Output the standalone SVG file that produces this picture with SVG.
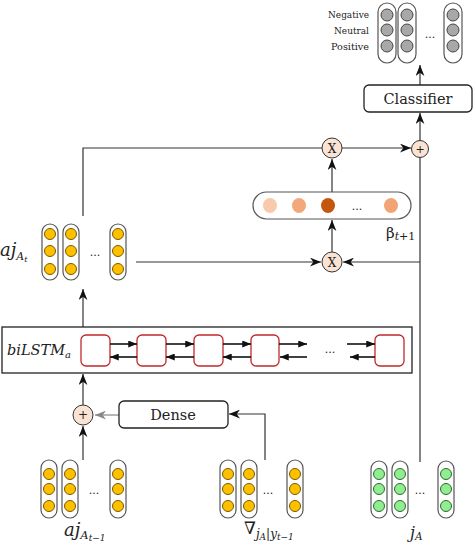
<svg xmlns="http://www.w3.org/2000/svg" width="474" height="546" viewBox="0 0 474 546">
<defs>
<marker id="arr" viewBox="0 0 10 8" refX="10" refY="4" markerWidth="11" markerHeight="9" markerUnits="userSpaceOnUse" orient="auto">
<path d="M0,0 L10,4 L0,8 L3,4 z" fill="#111"/>
</marker>
<marker id="arrg" viewBox="0 0 10 8" refX="10" refY="4" markerWidth="11" markerHeight="9" markerUnits="userSpaceOnUse" orient="auto">
<path d="M0,0 L10,4 L0,8 L3,4 z" fill="#888"/>
</marker>
<marker id="tri" viewBox="0 0 10 8" refX="10" refY="4" markerWidth="10" markerHeight="7" markerUnits="userSpaceOnUse" orient="auto">
<path d="M0,0 L10,4 L0,8 z" fill="#111"/>
</marker>
</defs>
<style>
.cap{fill:#fff;stroke:#555;stroke-width:1.2}
.y{fill:#FFC000;stroke:#7a5a00;stroke-width:1}
.g{fill:#90EE90;stroke:#2f6a2f;stroke-width:1}
.k{fill:#a8a8a8;stroke:#444;stroke-width:1}
.op{fill:#fbe3d3;stroke:#333;stroke-width:1}
.ln{fill:none;stroke:#333;stroke-width:1.2}
.box{fill:#fff;stroke:#222;stroke-width:1.3}
.cell{fill:#fff;stroke:#c0282a;stroke-width:1.3}
text{fill:#222;font-family:'DejaVu Serif',serif}
.m{font-style:italic}
.dots{font-size:11px}
</style>

<g id="connectors">
<line class="ln" x1="420" y1="85" x2="420" y2="65" marker-end="url(#arr)"/>
<line class="ln" x1="420" y1="141" x2="420" y2="113" marker-end="url(#arr)"/>
<line class="ln" x1="420" y1="462" x2="420" y2="157"/>
<line class="ln" x1="420" y1="262" x2="343" y2="262" marker-end="url(#arr)"/>
<line class="ln" x1="136" y1="262" x2="321" y2="262" marker-end="url(#arr)"/>
<line class="ln" x1="332" y1="252" x2="332" y2="220" marker-end="url(#arr)"/>
<line class="ln" x1="332" y1="192" x2="332" y2="159" marker-end="url(#arr)"/>
<line class="ln" x1="342" y1="148" x2="411" y2="148" marker-end="url(#arr)"/>
<polyline class="ln" points="83,216 83,148 322,148"/>
<line class="ln" x1="83" y1="327" x2="83" y2="289" marker-end="url(#arr)"/>
<line class="ln" x1="83" y1="405" x2="83" y2="374" marker-end="url(#arr)"/>
<line class="ln" x1="83" y1="460" x2="83" y2="426" marker-end="url(#arr)"/>
<line x1="119" y1="415" x2="95" y2="415" stroke="#888" stroke-width="1.2" marker-end="url(#arrg)"/>
<polyline class="ln" points="265,460 265,414 229,414" marker-end="url(#arr)"/>
</g>

<g id="output">
<text x="369" y="18" font-size="9" text-anchor="end" textLength="41" lengthAdjust="spacingAndGlyphs">Negative</text>
<text x="369" y="34" font-size="9" text-anchor="end" textLength="35" lengthAdjust="spacingAndGlyphs">Neutral</text>
<text x="369" y="50" font-size="9" text-anchor="end" textLength="38" lengthAdjust="spacingAndGlyphs">Positive</text>
<rect class="cap" x="378" y="3" width="18" height="60" rx="9"/>
<circle class="k" cx="387" cy="15" r="6"/><circle class="k" cx="387" cy="30" r="6"/><circle class="k" cx="387" cy="46" r="6"/>
<rect class="cap" x="398" y="3" width="18" height="60" rx="9"/>
<circle class="k" cx="407" cy="15" r="6"/><circle class="k" cx="407" cy="30" r="6"/><circle class="k" cx="407" cy="46" r="6"/>
<text class="dots" x="430" y="38" text-anchor="middle">...</text>
<rect class="cap" x="444" y="3" width="18" height="60" rx="9"/>
<circle class="k" cx="453" cy="15" r="6"/><circle class="k" cx="453" cy="30" r="6"/><circle class="k" cx="453" cy="46" r="6"/>
</g>

<g id="classifier">
<rect class="box" x="364" y="85" width="108" height="27" rx="5"/>
<text x="418" y="104" font-size="14.5" text-anchor="middle">Classifier</text>
</g>

<g id="plus-top">
<circle class="op" cx="420" cy="149" r="8.5"/>
<text x="420" y="153" font-size="11" text-anchor="middle">+</text>
</g>

<g id="mul-top">
<circle class="op" cx="332" cy="148" r="10"/>
<text x="332" y="152.5" font-size="12" text-anchor="middle">X</text>
</g>

<g id="beta">
<rect class="cap" x="253" y="192" width="158" height="27" rx="13.5"/>
<ellipse cx="270" cy="205.5" rx="7" ry="7.5" fill="#f8c9aa"/>
<ellipse cx="299" cy="205.5" rx="7" ry="7.5" fill="#f2a87a"/>
<ellipse cx="328" cy="205.5" rx="7" ry="7.5" fill="#c4560e"/>
<text class="dots" x="357" y="210" text-anchor="middle">...</text>
<ellipse cx="391" cy="205.5" rx="7" ry="7.5" fill="#f2a474"/>
<text x="386" y="238" font-size="15">β<tspan class="m" font-size="11" dy="2">t</tspan><tspan font-size="11">+1</tspan></text>
</g>

<g id="mul-bottom">
<circle class="op" cx="332" cy="262" r="10"/>
<text x="332" y="266.5" font-size="12" text-anchor="middle">X</text>
</g>

<g id="ajAt">
<text class="m" x="0" y="256" font-size="18">aj<tspan font-size="11" dy="4">A</tspan><tspan font-size="8" dy="2">t</tspan></text>
<rect class="cap" x="42" y="224" width="16" height="56" rx="8"/>
<circle class="y" cx="50" cy="234" r="5.5"/><circle class="y" cx="50" cy="251" r="5.5"/><circle class="y" cx="50" cy="269" r="5.5"/>
<rect class="cap" x="63" y="224" width="16" height="56" rx="8"/>
<circle class="y" cx="71" cy="234" r="5.5"/><circle class="y" cx="71" cy="251" r="5.5"/><circle class="y" cx="71" cy="269" r="5.5"/>
<text class="dots" x="95" y="256" text-anchor="middle">...</text>
<rect class="cap" x="110" y="224" width="16" height="56" rx="8"/>
<circle class="y" cx="118" cy="234" r="5.5"/><circle class="y" cx="118" cy="251" r="5.5"/><circle class="y" cx="118" cy="269" r="5.5"/>
</g>

<g id="bilstm">
<rect class="box" x="2" y="327" width="410" height="46"/>
<text class="m" x="7" y="355" font-size="14.5">biLSTM<tspan font-size="10" dy="3">a</tspan></text>
<rect class="cell" x="81" y="335" width="29" height="31" rx="5"/>
<rect class="cell" x="137" y="335" width="29" height="31" rx="5"/>
<rect class="cell" x="194" y="335" width="29" height="31" rx="5"/>
<rect class="cell" x="251" y="335" width="28" height="31" rx="5"/>
<rect class="cell" x="375" y="335" width="29" height="31" rx="5"/>
<g stroke="#111" stroke-width="1.6">
<line x1="110" y1="344" x2="137" y2="344" marker-end="url(#tri)"/>
<line x1="137" y1="357" x2="110" y2="357" marker-end="url(#tri)"/>
<line x1="166" y1="344" x2="194" y2="344" marker-end="url(#tri)"/>
<line x1="194" y1="357" x2="166" y2="357" marker-end="url(#tri)"/>
<line x1="223" y1="344" x2="251" y2="344" marker-end="url(#tri)"/>
<line x1="251" y1="357" x2="223" y2="357" marker-end="url(#tri)"/>
<line x1="279" y1="344" x2="307" y2="344" marker-end="url(#tri)"/>
<line x1="307" y1="357" x2="280" y2="357" marker-end="url(#tri)"/>
<line x1="347" y1="344" x2="375" y2="344" marker-end="url(#tri)"/>
<line x1="375" y1="357" x2="350" y2="357" marker-end="url(#tri)"/>
</g>
<text class="dots" x="330" y="353" text-anchor="middle">...</text>
</g>

<g id="plus-bottom">
<circle class="op" cx="83" cy="415" r="10"/>
<text x="83" y="419" font-size="12" text-anchor="middle">+</text>
</g>

<g id="dense">
<rect class="box" x="119" y="401" width="109" height="27" rx="5"/>
<text x="173" y="419.5" font-size="14.5" text-anchor="middle">Dense</text>
</g>

<g id="ajAt1">
<rect class="cap" x="41" y="460" width="16" height="58" rx="8"/>
<circle class="y" cx="49" cy="474" r="5.5"/><circle class="y" cx="49" cy="489" r="5.5"/><circle class="y" cx="49" cy="506" r="5.5"/>
<rect class="cap" x="62" y="460" width="16" height="58" rx="8"/>
<circle class="y" cx="70" cy="474" r="5.5"/><circle class="y" cx="70" cy="489" r="5.5"/><circle class="y" cx="70" cy="506" r="5.5"/>
<text class="dots" x="94" y="494" text-anchor="middle">...</text>
<rect class="cap" x="110" y="460" width="16" height="58" rx="8"/>
<circle class="y" cx="118" cy="474" r="5.5"/><circle class="y" cx="118" cy="489" r="5.5"/><circle class="y" cx="118" cy="506" r="5.5"/>
<text class="m" x="64" y="536" font-size="18">aj<tspan font-size="11.5" dy="3">A</tspan><tspan font-size="9" dy="1.5">t−1</tspan></text>
</g>

<g id="grad">
<rect class="cap" x="220" y="460" width="16" height="58" rx="8"/>
<circle class="y" cx="228" cy="474" r="5.5"/><circle class="y" cx="228" cy="489" r="5.5"/><circle class="y" cx="228" cy="506" r="5.5"/>
<rect class="cap" x="241" y="460" width="16" height="58" rx="8"/>
<circle class="y" cx="249" cy="474" r="5.5"/><circle class="y" cx="249" cy="489" r="5.5"/><circle class="y" cx="249" cy="506" r="5.5"/>
<text class="dots" x="268" y="494" text-anchor="middle">...</text>
<rect class="cap" x="287" y="460" width="16" height="58" rx="8"/>
<circle class="y" cx="295" cy="474" r="5.5"/><circle class="y" cx="295" cy="489" r="5.5"/><circle class="y" cx="295" cy="506" r="5.5"/>
<text x="244" y="534" font-size="17">∇<tspan class="m" font-size="12" dy="4">j</tspan><tspan class="m" font-size="9" dy="1.5">A</tspan><tspan class="m" font-size="12" dy="-1.5">|y</tspan><tspan class="m" font-size="9" dy="1.5">t−1</tspan></text>
</g>

<g id="jA">
<rect class="cap" x="371" y="461" width="16" height="57" rx="8"/>
<circle class="g" cx="379" cy="474" r="5.5"/><circle class="g" cx="379" cy="489" r="5.5"/><circle class="g" cx="379" cy="506" r="5.5"/>
<rect class="cap" x="392" y="461" width="16" height="57" rx="8"/>
<circle class="g" cx="400" cy="474" r="5.5"/><circle class="g" cx="400" cy="489" r="5.5"/><circle class="g" cx="400" cy="506" r="5.5"/>
<text class="dots" x="420" y="494" text-anchor="middle">...</text>
<rect class="cap" x="438" y="461" width="16" height="57" rx="8"/>
<circle class="g" cx="446" cy="474" r="5.5"/><circle class="g" cx="446" cy="489" r="5.5"/><circle class="g" cx="446" cy="506" r="5.5"/>
<text class="m" x="410" y="538" font-size="16">j<tspan font-size="10.5" dy="2">A</tspan></text>
</g>
</svg>
